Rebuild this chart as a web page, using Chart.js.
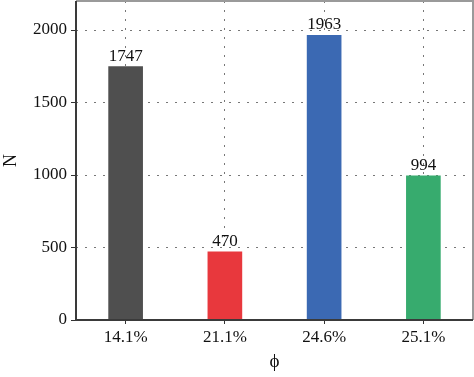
<!DOCTYPE html>
<html>
<head>
<meta charset="utf-8">
<script src="https://cdn.jsdelivr.net/npm/chart.js@4"></script>
<style>
  html, body { margin: 0; padding: 0; background: #fff; }
  #wrap { width: 474px; height: 377px; }
</style>
</head>
<body>
<div id="wrap"><canvas id="c"></canvas></div>
<script>
// data
const categories = ['14.1%', '21.1%', '24.6%', '25.1%'];
const counts = [1747, 470, 1963, 994];
const barColors = ['#4f4f4f', '#e8383d', '#3b69b3', '#37ab6e'];
const yTicks = [0, 500, 1000, 1500, 2000];

const FONT = '"Liberation Serif", "DejaVu Serif", serif';

// frame: dark left/bottom axis, gray top/right
const framePlugin = {
  id: 'frame',
  afterDraw(chart) {
    const { ctx, chartArea: a } = chart;
    ctx.save();
    ctx.lineWidth = 2;
    ctx.strokeStyle = '#9a9a9a';
    ctx.beginPath();
    ctx.moveTo(a.left, a.top);
    ctx.lineTo(a.right, a.top);
    ctx.lineTo(a.right, a.bottom);
    ctx.stroke();
    ctx.strokeStyle = '#3a3a3a';
    ctx.beginPath();
    ctx.moveTo(a.left, a.top);
    ctx.lineTo(a.left, a.bottom);
    ctx.lineTo(a.right, a.bottom);
    ctx.stroke();
    ctx.restore();
  }
};

// value labels above bars
const valueLabels = {
  id: 'valueLabels',
  afterDatasetsDraw(chart) {
    const c = chart.ctx;
    c.save();
    c.font = '17px ' + FONT;
    c.fillStyle = '#111';
    c.textAlign = 'center';
    c.textBaseline = 'alphabetic';
    chart.getDatasetMeta(0).data.forEach((bar, i) => {
      c.fillText(String(counts[i]), bar.x, bar.y - 6);
    });
    c.restore();
  }
};

new Chart(document.getElementById('c'), {
  type: 'bar',
  data: {
    labels: categories,
    datasets: [{
      data: counts,
      backgroundColor: barColors,
      borderWidth: 0,
      barThickness: 34
    }]
  },
  options: {
    responsive: true, maintainAspectRatio: false,
    animation: false,
    layout: { padding: { top: 1, right: 1, left: 0, bottom: 0 } },
    plugins: { legend: { display: false }, tooltip: { enabled: false } },
    scales: {
      x: {
        offset: true,
        grid: { offset: false, color: '#777', lineWidth: 1, tickLength: 4, tickColor: '#333', tickBorderDash: [] },
        border: { display: false, dash: [2, 7] },
        ticks: { color: '#111', font: { family: FONT, size: 17 }, padding: 3 },
        title: { display: true, text: 'ϕ', color: '#111', font: { family: FONT, size: 19 }, padding: { top: 7 } },
        afterFit(s) { s.height = 57; s.paddingLeft = 0; s.paddingRight = 0; }
      },
      y: {
        min: 0, max: 2200,
        afterBuildTicks(s) { s.ticks = yTicks.map(v => ({ value: v })); },
        grid: { color: '#777', lineWidth: 1, tickLength: 5, tickColor: '#333', tickBorderDash: [] },
        border: { display: false, dash: [2, 7] },
        ticks: { color: '#111', font: { family: FONT, size: 17 }, padding: 4, callback: v => String(v) },
        title: { display: true, text: 'N', color: '#111', font: { family: FONT, size: 18 }, padding: { top: 0, bottom: 0 } },
        afterFit(s) { s.width = 76; s.paddingTop = 0; s.paddingBottom = 0; }
      }
    }
  },
  plugins: [framePlugin, valueLabels]
});
</script>
</body>
</html>
